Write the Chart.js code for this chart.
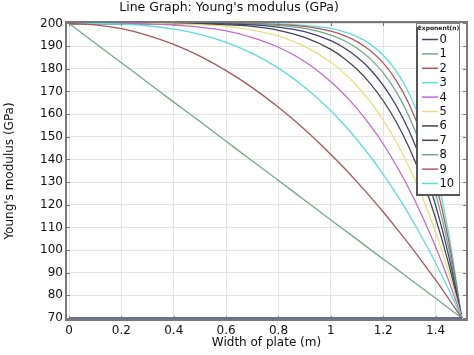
<!DOCTYPE html>
<html>
<head>
<meta charset="utf-8">
<script src="https://cdn.jsdelivr.net/npm/chart.js@4/dist/chart.umd.min.js"></script>
<style>
  html, body { margin: 0; padding: 0; background: #fff; }
</style>
</head>
<body>
<canvas id="grafico" width="474" height="355"></canvas>
<script>
// ================== Datos ==================
const ANCHO = [0, 0.1, 0.2, 0.3, 0.4, 0.5, 0.6, 0.7, 0.8, 0.9, 1.0, 1.05, 1.1, 1.15, 1.2, 1.25, 1.3, 1.35, 1.4, 1.45, 1.5];

const n0  = [70, 70, 70, 70, 70, 70, 70, 70, 70, 70, 70, 70, 70, 70, 70, 70, 70, 70, 70, 70, 70];
const n1  = [200, 191.3, 182.7, 174, 165.3, 156.7, 148, 139.3, 130.7, 122, 113.3, 109, 104.7, 100.3, 96, 91.7, 87.3, 83, 78.7, 74.3, 70];
const n2  = [200, 199.4, 197.7, 194.8, 190.8, 185.6, 179.2, 171.7, 163.0, 153.2, 142.2, 136.3, 130.1, 123.6, 116.8, 109.7, 102.4, 94.7, 86.8, 78.5, 70];
const n3  = [200, 200, 199.7, 199.0, 197.5, 195.2, 191.7, 186.8, 180.3, 171.9, 161.5, 155.4, 148.7, 141.4, 133.4, 124.8, 115.4, 105.2, 94.3, 82.6, 70];
const n4  = [200, 200, 200, 199.8, 199.3, 198.4, 196.7, 193.8, 189.5, 183.2, 174.3, 168.8, 162.4, 155.1, 146.8, 137.3, 126.7, 114.7, 101.4, 86.5, 70];
const n5  = [200, 200, 200, 200, 199.8, 199.5, 198.7, 197.1, 194.4, 189.9, 182.9, 178.2, 172.4, 165.6, 157.4, 147.8, 136.4, 123.2, 107.9, 90.3, 70];
const n6  = [200, 200, 200, 200, 200, 199.8, 199.5, 198.7, 197.0, 193.9, 188.6, 184.7, 179.8, 173.6, 165.9, 156.5, 144.9, 130.9, 114.1, 93.9, 70];
const n7  = [200, 200, 200, 200, 200, 199.9, 199.8, 199.4, 198.4, 196.4, 192.4, 189.3, 185.2, 179.8, 172.7, 163.7, 152.3, 137.8, 119.8, 97.5, 70];
const n8  = [200, 200, 200, 200, 200, 200, 199.9, 199.7, 199.2, 197.8, 194.9, 192.5, 189.1, 184.5, 178.2, 169.8, 158.6, 144.0, 125.1, 100.9, 70];
const n9  = [200, 200, 200, 200, 200, 200, 200, 199.9, 199.5, 198.7, 196.6, 194.8, 192.0, 188.1, 182.6, 174.8, 164.1, 149.6, 130.1, 104.2, 70];
const n10 = [200, 200, 200, 200, 200, 200, 200, 199.9, 199.8, 199.2, 197.8, 196.3, 194.2, 190.9, 186.0, 179.0, 168.9, 154.7, 134.8, 107.4, 70];

const SERIES = [n0, n1, n2, n3, n4, n5, n6, n7, n8, n9, n10];
const ETIQUETAS = ["0", "1", "2", "3", "4", "5", "6", "7", "8", "9", "10"];
const COLORES = ["#3e4478", "#76a98a", "#a5575a", "#5fdcdc", "#c469cf", "#e6df80",
                 "#45454f", "#3f4374", "#73a88a", "#b05a5a", "#5fdcdc"];

const X_TICKS = [0, 0.2, 0.4, 0.6, 0.8, 1, 1.2, 1.4];
const Y_TICKS = [70, 80, 90, 100, 110, 120, 130, 140, 150, 160, 170, 180, 190, 200];

const FUENTE = "'DejaVu Sans', sans-serif";

// ================== Plugins de dibujo ==================
// Marco gris con marcas hacia dentro (estilo COMSOL)
const marco = {
  id: "marco",
  afterDraw(chart) {
    const { ctx, chartArea: a, scales: { x, y } } = chart;
    ctx.save();
    ctx.strokeStyle = "#7a7a7a";
    ctx.lineWidth = 1;
    ctx.beginPath();
    X_TICKS.forEach(v => {
      const px = Math.round(x.getPixelForValue(v)) + 0.5;
      ctx.moveTo(px, a.bottom); ctx.lineTo(px, a.bottom - 4);
      ctx.moveTo(px, a.top); ctx.lineTo(px, a.top + 4);
    });
    Y_TICKS.forEach(v => {
      const py = Math.round(y.getPixelForValue(v)) + 0.5;
      ctx.moveTo(a.left, py); ctx.lineTo(a.left + 4, py);
      ctx.moveTo(a.right, py); ctx.lineTo(a.right - 4, py);
    });
    ctx.stroke();
    ctx.lineWidth = 2;
    ctx.strokeRect(a.left, a.top, a.right - a.left, a.bottom - a.top);
    ctx.restore();
  }
};

// Leyenda dentro del área de la gráfica
const leyenda = {
  id: "leyenda",
  afterDraw(chart) {
    const ctx = chart.ctx;
    const x0 = 416, y0 = 23, w = 43, h = 171;
    ctx.save();
    ctx.fillStyle = "#fff";
    ctx.fillRect(x0, y0, w, h);
    ctx.strokeStyle = "#808080";
    ctx.lineWidth = 1;
    ctx.strokeRect(x0 + 0.5, y0 + 0.5, w, h);
    ctx.strokeStyle = "#555";
    ctx.lineWidth = 2;
    ctx.beginPath();
    ctx.moveTo(x0 + 1, y0 + 4); ctx.lineTo(x0 + 1, y0 + h + 1);
    ctx.lineTo(x0 + w + 1, y0 + h + 1);
    ctx.stroke();

    ctx.fillStyle = "#222";
    ctx.font = "bold 6px " + FUENTE;
    ctx.textAlign = "center";
    ctx.textBaseline = "middle";
    ctx.fillText("Exponent(n)", x0 + w / 2 + 1, 28);

    ctx.font = "11.5px " + FUENTE;
    ctx.textAlign = "left";
    chart.data.datasets.forEach((ds, i) => {
      const cy = 39.5 + i * 14.4;
      ctx.strokeStyle = ds.borderColor;
      ctx.lineWidth = 1.5;
      ctx.beginPath();
      ctx.moveTo(422, cy); ctx.lineTo(438, cy);
      ctx.stroke();
      ctx.fillStyle = "#111";
      ctx.fillText(ds.label, 439.5, cy + 0.5);
    });
    ctx.restore();
  }
};

// Título
const titulo = {
  id: "titulo",
  afterDraw(chart) {
    const ctx = chart.ctx;
    ctx.save();
    ctx.fillStyle = "#111";
    ctx.font = "12.5px " + FUENTE;
    ctx.textAlign = "center";
    ctx.textBaseline = "middle";
    ctx.fillText("Line Graph: Young's modulus (GPa)", 229, 8);
    ctx.restore();
  }
};

// ================== Gráfica ==================
const datasets = SERIES.map((serie, i) => ({
  label: ETIQUETAS[i],
  data: ANCHO.map((xv, j) => ({ x: xv, y: serie[j] })),
  borderColor: COLORES[i],
  backgroundColor: COLORES[i],
  borderWidth: 1.3,
  pointRadius: 0,
  cubicInterpolationMode: "monotone",
  fill: false
}));

new Chart(document.getElementById("grafico").getContext("2d"), {
  type: "line",
  data: { datasets },
  options: {
    responsive: false,
    animation: false,
    layout: { padding: { top: 22, right: 7, left: 0, bottom: 0 } },
    plugins: {
      legend: { display: false },
      title: { display: false },
      tooltip: { enabled: false }
    },
    scales: {
      x: {
        type: "linear",
        min: -0.0115,
        max: 1.52,
        afterBuildTicks: s => { s.ticks = X_TICKS.map(v => ({ value: v })); },
        afterFit: s => { s.height = 35; },
        ticks: {
          autoSkip: false, maxRotation: 0, padding: 4, color: "#111",
          font: { family: FUENTE, size: 12 },
          callback: v => String(v)
        },
        grid: { color: "#e4e4e4", drawTicks: false },
        border: { display: false },
        title: {
          display: true, text: "Width of plate (m)", color: "#111",
          font: { family: FUENTE, size: 12 }, padding: { top: 0, bottom: 5 }
        }
      },
      y: {
        min: 69.12,
        max: 200.66,
        afterBuildTicks: s => { s.ticks = Y_TICKS.map(v => ({ value: v })); },
        afterFit: s => { s.width = 66; },
        ticks: {
          autoSkip: false, padding: 3, color: "#111",
          font: { family: FUENTE, size: 12 }
        },
        grid: { color: "#e4e4e4", drawTicks: false },
        border: { display: false },
        title: {
          display: true, text: "Young's modulus (GPa)", color: "#111",
          font: { family: FUENTE, size: 12 }, padding: { top: 3, bottom: 0 }
        }
      }
    }
  },
  plugins: [marco, leyenda, titulo]
});
</script>
</body>
</html>
